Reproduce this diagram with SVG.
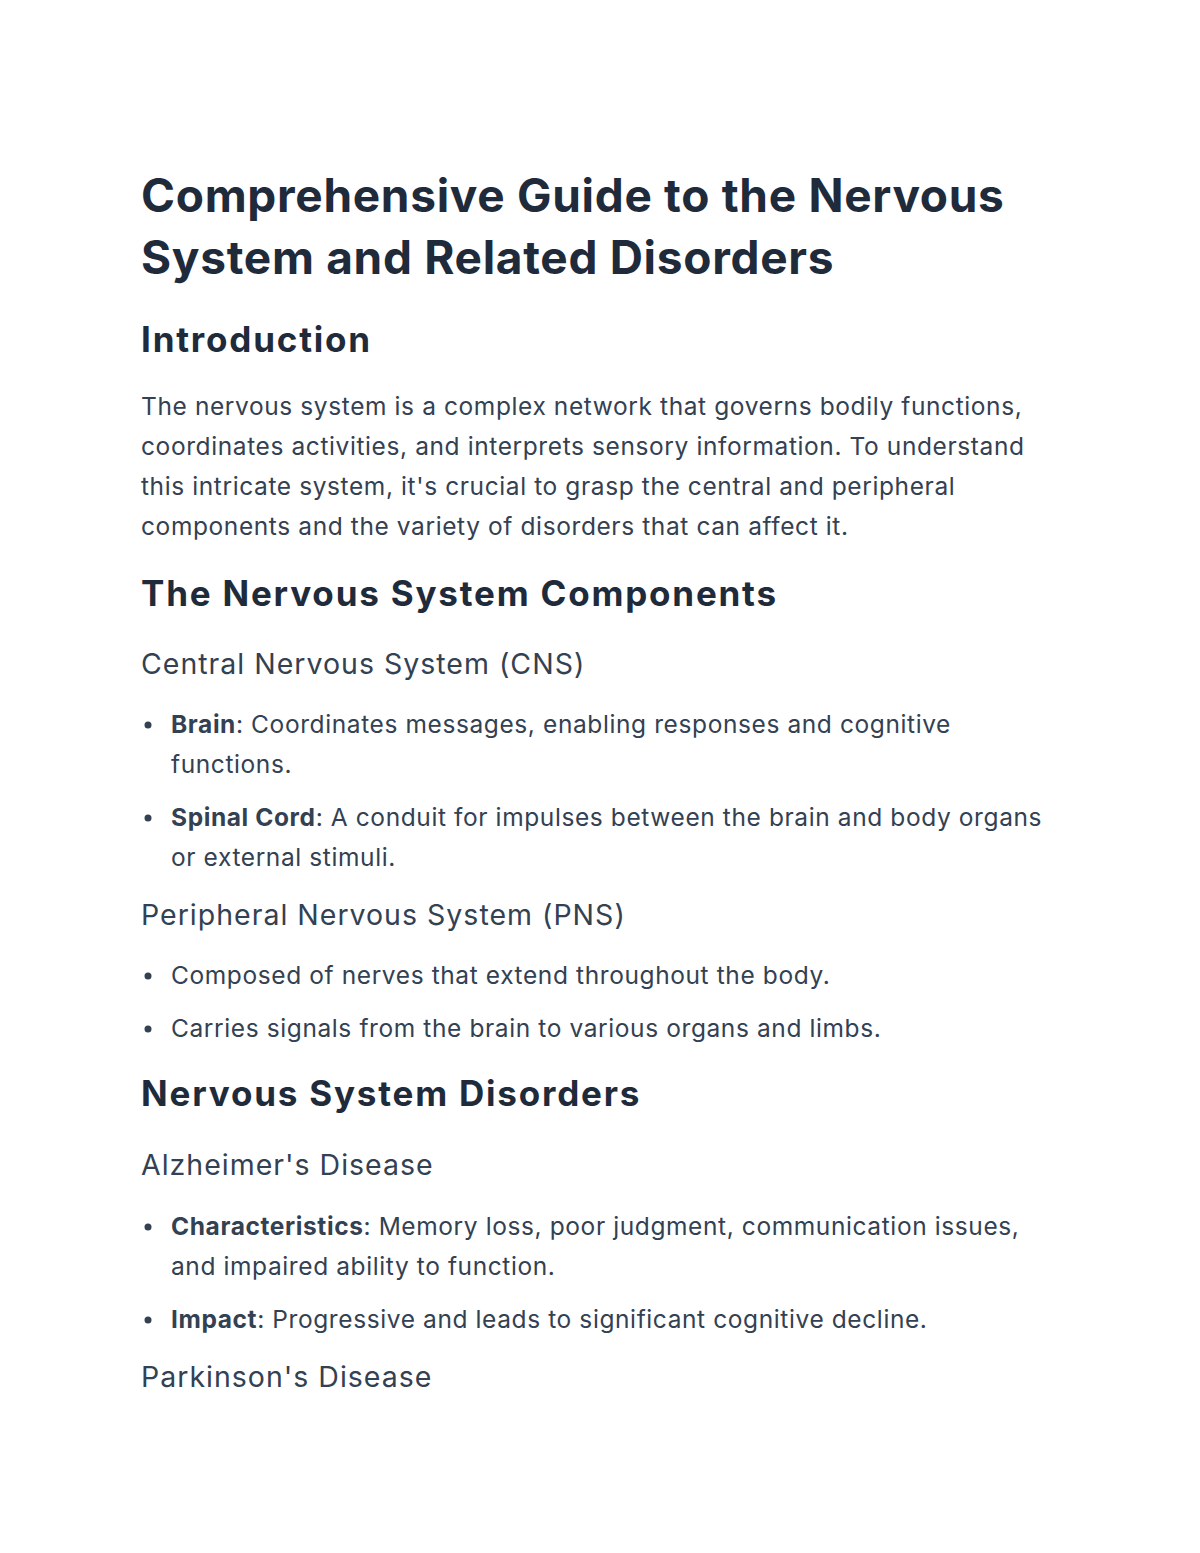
<svg xmlns="http://www.w3.org/2000/svg" width="1200" height="1553" viewBox="0 0 1200 1553">
<style>
text{font-family:Inter,"Noto Sans",sans-serif;fill:#2a3646}
.t{font-size:46px;font-weight:700;fill:#1f2b3a;letter-spacing:0.7px}
.h{font-size:35px;font-weight:700;fill:#1f2b3a;letter-spacing:1.8px}
.s{font-size:28.5px;fill:#334152;letter-spacing:1px}
.b{font-size:24.5px;fill:#334152;letter-spacing:0.6px}
.k{font-weight:700}
circle{fill:#334152}
</style>
<rect width="1200" height="1553" fill="#fff"/>
<g id="title">
<text class="t" x="141" y="212">Comprehensive Guide to the Nervous</text>
<text class="t" x="141" y="274">System and Related Disorders</text>
</g>
<g id="intro">
<text class="h" x="141" y="352">Introduction</text>
<text class="b" x="141" y="415">The nervous system is a complex network that governs bodily functions,</text>
<text class="b" x="141" y="455">coordinates activities, and interprets sensory information. To understand</text>
<text class="b" x="141" y="495">this intricate system, it's crucial to grasp the central and peripheral</text>
<text class="b" x="141" y="535">components and the variety of disorders that can affect it.</text>
</g>
<g id="components">
<text class="h" x="141" y="606">The Nervous System Components</text>
<text class="s" x="141" y="674">Central Nervous System (CNS)</text>
<circle cx="148" cy="725" r="3.5"/>
<text class="b" x="171" y="733"><tspan class="k">Brain</tspan>: Coordinates messages, enabling responses and cognitive</text>
<text class="b" x="171" y="773">functions.</text>
<circle cx="148" cy="818" r="3.5"/>
<text class="b" x="171" y="826"><tspan class="k">Spinal Cord</tspan>: A conduit for impulses between the brain and body organs</text>
<text class="b" x="171" y="866">or external stimuli.</text>
<text class="s" x="141" y="925">Peripheral Nervous System (PNS)</text>
<circle cx="148" cy="976" r="3.5"/>
<text class="b" x="171" y="984">Composed of nerves that extend throughout the body.</text>
<circle cx="148" cy="1029" r="3.5"/>
<text class="b" x="171" y="1037">Carries signals from the brain to various organs and limbs.</text>
</g>
<g id="disorders">
<text class="h" x="141" y="1106">Nervous System Disorders</text>
<text class="s" x="141" y="1175">Alzheimer's Disease</text>
<circle cx="148" cy="1227" r="3.5"/>
<text class="b" x="171" y="1235"><tspan class="k">Characteristics</tspan>: Memory loss, poor judgment, communication issues,</text>
<text class="b" x="171" y="1275">and impaired ability to function.</text>
<circle cx="148" cy="1320" r="3.5"/>
<text class="b" x="171" y="1328"><tspan class="k">Impact</tspan>: Progressive and leads to significant cognitive decline.</text>
<text class="s" x="141" y="1387">Parkinson's Disease</text>
</g>
</svg>
